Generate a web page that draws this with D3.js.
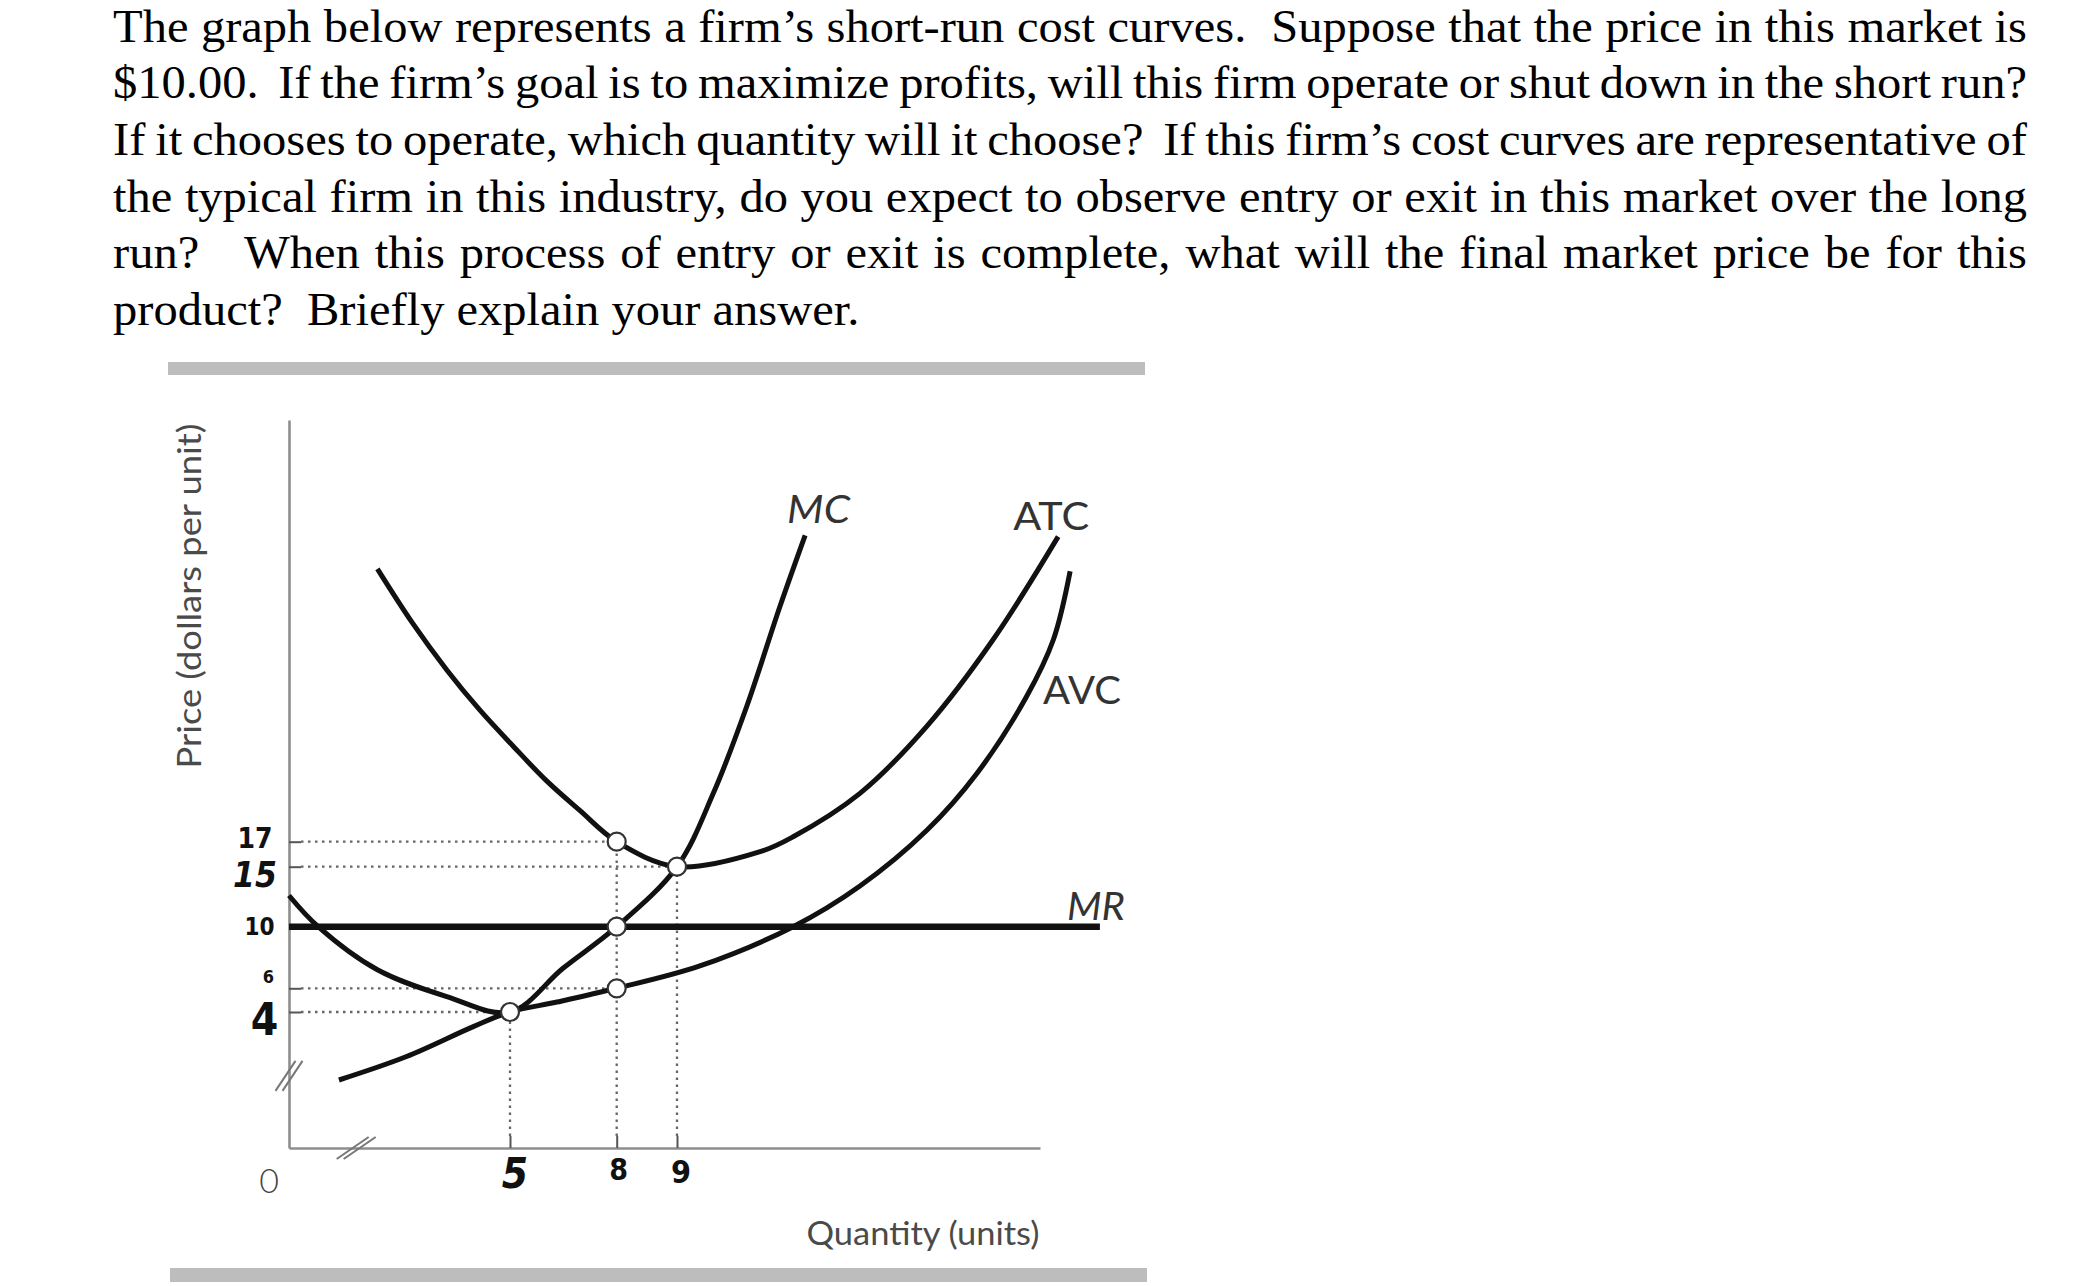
<!DOCTYPE html>
<html>
<head>
<meta charset="utf-8">
<script src="https://cdn.jsdelivr.net/npm/d3@7"></script>
<style>
  html, body { margin: 0; padding: 0; background: #ffffff; }
  svg { display: block; }
</style>
</head>
<body>
<svg id="chart" width="2078" height="1286"></svg>
<script>
// ---------------- DATA ----------------
const questionLines = [
  "The graph below represents a firm\u2019s short-run cost curves.  Suppose that the price in this market is",
  "$10.00.  If the firm\u2019s goal is to maximize profits, will this firm operate or shut down in the short run?",
  "If it chooses to operate, which quantity will it choose?  If this firm\u2019s cost curves are representative of",
  "the typical firm in this industry, do you expect to observe entry or exit in this market over the long",
  "run?   When this process of entry or exit is complete, what will the final market price be for this",
  "product?  Briefly explain your answer."
];
const justifiedLines = [true, true, true, true, true, false];

const quantityTicks = [5, 8, 9];
const quantityTickLabels = ["5", "8", "9"];
const priceTicks = [17, 15, 10, 6, 4];
const priceTickLabels = ["17", "15", "10", "6", "4"];

// curves: [quantity, price]
const mcCurve = [[0, 12.6], [0.66, 10], [2.0, 7.2], [3.57, 5.3], [5, 4], [6.49, 7.3], [8, 10], [9, 15],
                 [10.0, 20.9], [10.92, 27.9], [11.84, 36.0], [12.53, 41.7]];
const atcCurve = [[2.0, 39.0], [2.8, 34.6], [3.57, 30.85], [4.32, 27.6], [5.09, 24.7], [6.03, 21.9],
                  [6.97, 19.5], [8, 17], [9, 15], [11.29, 16.2], [12.2, 17.4],
                  [14.04, 20.9], [15.88, 26.3], [17.71, 33.3], [19.5, 41.6]];
const avcCurve = [[1.13, 2.0], [2.66, 2.69], [4.17, 3.57], [5, 4], [6.32, 4.84], [8, 6], [9.63, 7.45],
                  [12.2, 10], [14.04, 13.39], [15.89, 17.94], [17.26, 22.5], [18.63, 28.7],
                  [19.37, 33.3], [19.83, 38.8]];
const mrPrice = 10;
const mrQuantities = [0, 20.65];

const markedPoints = [[8, 17], [9, 15], [8, 10], [8, 6], [5, 4]];
const priceGuides = [[17, 8], [15, 9], [6, 8], [4, 5]];      // [price, quantity where guide ends]
const quantityGuides = [[5, 4], [8, 17], [9, 15]];           // [quantity, price where guide ends]
const priceBreakValue = 2.12;
const quantityBreakValue = 1.52;

const curveNames = ["MC", "ATC", "AVC", "MR"];

// ---------------- LAYOUT / STYLE ----------------
const svg = d3.select("#chart");

const x = d3.scaleLinear().domain([0, 5, 8, 9, 19]).range([289, 510, 616.7, 677, 1040]);
const y = d3.scaleLinear().domain([0, 4, 6, 10, 15, 17, 51]).range([1148, 1012, 988.3, 926.7, 866.7, 841.7, 420]);

const textLeft = 113, textRight = 2027, baseline0 = 41.5, lineGap = 56.7;
const textSize = 46, textScaleX = 1.055;
const serif = "'Liberation Serif','Times New Roman',Times,serif";
const sans = "Lato,'Open Sans','DejaVu Sans',sans-serif";
const hand = "'Liberation Sans Narrow','DejaVu Sans Condensed','Liberation Sans',sans-serif";

// ---------- question text (justified) ----------
const tg = svg.append("g");
function measure(w) {
  const t = tg.append("text").attr("font-family", serif).attr("font-size", textSize).style("white-space", "pre").text(w);
  const wd = t.node().getComputedTextLength();
  t.remove();
  return wd * textScaleX;
}
function putWord(w, px, py) {
  tg.append("text").attr("transform", `translate(${px},${py}) scale(${textScaleX},1)`)
    .attr("font-family", serif).attr("font-size", textSize).attr("fill", "#000")
    .style("white-space", "pre").text(w);
}
questionLines.forEach((line, i) => {
  const yy = baseline0 + i * lineGap;
  if (!justifiedLines[i]) { putWord(line, textLeft, yy); return; }
  const parts = line.split(/( +)/);
  const words = parts.filter((p, k) => k % 2 === 0);
  const gaps = parts.filter((p, k) => k % 2 === 1).map(s => s.length);
  const widths = words.map(measure);
  const perSpace = (textRight - textLeft - d3.sum(widths)) / d3.sum(gaps);
  let cx = textLeft;
  words.forEach((w, k) => {
    putWord(w, cx, yy);
    cx += widths[k] + (k < gaps.length ? gaps[k] * perSpace : 0);
  });
});

// ---------- gray frame bars ----------
svg.append("rect").attr("x", 168).attr("y", 362).attr("width", 977).attr("height", 13).attr("fill", "#bdbdbd");
svg.append("rect").attr("x", 170).attr("y", 1268).attr("width", 977).attr("height", 14).attr("fill", "#bdbdbd");

// ---------- axes ----------
const axisG = svg.append("g");
const yAxis = d3.axisLeft(y).tickValues(priceTicks.filter(p => p !== mrPrice)).tickSize(-12).tickSizeOuter(0).tickFormat("");
const xAxis = d3.axisBottom(x).tickValues(quantityTicks).tickSize(-12).tickSizeOuter(0).tickFormat("");
const gy = axisG.append("g").attr("transform", `translate(${x(0)},0)`).call(yAxis);
const gx = axisG.append("g").attr("transform", `translate(0,${y(0)})`).call(xAxis);
[gy, gx].forEach(g => {
  g.select(".domain").attr("stroke", "#8e8e8e").attr("stroke-width", 2.6);
  g.selectAll(".tick line").attr("stroke", "#555").attr("stroke-width", 2);
});

// axis break marks
const brk = axisG.append("g").attr("stroke", "#777").attr("stroke-width", 2).attr("fill", "none");
[-3.5, 3.5].forEach(o => {
  const cy = y(priceBreakValue);
  brk.append("line").attr("x1", x(0) - 10 + o).attr("y1", cy + 15).attr("x2", x(0) + 10 + o).attr("y2", cy - 15);
  const cxq = x(quantityBreakValue);
  brk.append("line").attr("x1", cxq - 16 + o).attr("y1", y(0) + 11).attr("x2", cxq + 16 + o).attr("y2", y(0) - 11);
});

// ---------- dotted guides ----------
const guideG = svg.append("g").attr("stroke", "#666").attr("stroke-width", 2.3).attr("stroke-dasharray", "2.5,4.5");
priceGuides.forEach(([p, q]) => {
  guideG.append("line").attr("x1", x(0) + 12).attr("x2", x(q)).attr("y1", y(p)).attr("y2", y(p));
});
quantityGuides.forEach(([q, p]) => {
  guideG.append("line").attr("x1", x(q)).attr("x2", x(q)).attr("y1", y(0) - 12).attr("y2", y(p));
});

// ---------- curves ----------
const lineGen = d3.line().x(d => x(d[0])).y(d => y(d[1])).curve(d3.curveCatmullRom.alpha(0.5));
const curveG = svg.append("g").attr("fill", "none").attr("stroke", "#111").attr("stroke-linecap", "butt");
[mcCurve, atcCurve, avcCurve].forEach(c => {
  curveG.append("path").attr("d", lineGen(c)).attr("stroke-width", 5);
});
curveG.append("line").attr("x1", x(mrQuantities[0])).attr("x2", x(mrQuantities[1]))
  .attr("y1", y(mrPrice)).attr("y2", y(mrPrice)).attr("stroke-width", 6.5);

// ---------- marked points ----------
svg.append("g").selectAll("circle").data(markedPoints).join("circle")
  .attr("cx", d => x(d[0])).attr("cy", d => y(d[1])).attr("r", 9)
  .attr("fill", "#fff").attr("stroke", "#333").attr("stroke-width", 2.2);

// ---------- curve labels ----------
const lastOf = c => [x(c[c.length - 1][0]), y(c[c.length - 1][1])];
const ends = { MC: lastOf(mcCurve), ATC: lastOf(atcCurve), AVC: lastOf(avcCurve), MR: [x(mrQuantities[1]), y(mrPrice)] };
const labelStyle = {
  MC: { dx: -18, dy: -12, italic: true, len: 63 },
  ATC: { dx: -45, dy: -7, italic: false, len: 76 },
  AVC: { dx: -27, dy: 133, italic: false, len: 78 },
  MR: { dx: -33, dy: -7, italic: true, len: 58 }
};
curveNames.forEach(n => {
  const s = labelStyle[n];
  svg.append("text").attr("x", ends[n][0] + s.dx).attr("y", ends[n][1] + s.dy)
    .attr("font-family", sans).attr("font-size", 39).attr("fill", "#333")
    .attr("font-style", s.italic ? "italic" : "normal")
    .attr("textLength", s.len).attr("lengthAdjust", "spacingAndGlyphs")
    .text(n);
});

// ---------- handwritten tick labels ----------
const priceLabelStyle = [
  { size: 28, dx: -34, dy: 6.5, italic: false },
  { size: 35, dx: -34, dy: 20, italic: true },
  { size: 24, dx: -29.5, dy: 8, italic: false },
  { size: 18, dx: -20.5, dy: -5, italic: false },
  { size: 44, dx: -24.5, dy: 23, italic: false }
];
priceTicks.forEach((p, i) => {
  const s = priceLabelStyle[i];
  svg.append("text").attr("x", x(0) + s.dx).attr("y", y(p) + s.dy)
    .attr("text-anchor", "middle").attr("font-family", hand).attr("font-weight", "bold")
    .attr("font-style", s.italic ? "italic" : "normal")
    .attr("font-size", s.size).attr("fill", "#111").text(priceTickLabels[i]);
});
const qtyLabelStyle = [
  { size: 42, dx: 5, dy: 40, italic: true },
  { size: 30, dx: 2, dy: 32, italic: false },
  { size: 32, dx: 4, dy: 35, italic: false }
];
quantityTicks.forEach((q, i) => {
  const s = qtyLabelStyle[i];
  svg.append("text").attr("x", x(q) + s.dx).attr("y", y(0) + s.dy)
    .attr("text-anchor", "middle").attr("font-family", hand).attr("font-weight", "bold")
    .attr("font-style", s.italic ? "italic" : "normal")
    .attr("font-size", s.size).attr("fill", "#111").text(quantityTickLabels[i]);
});
svg.append("text").attr("x", x(0) - 20).attr("y", y(0) + 45)
  .attr("text-anchor", "middle").attr("font-family", sans).attr("font-weight", 300)
  .attr("font-size", 34).attr("fill", "#444").text("0");

// ---------- axis titles ----------
svg.append("text")
  .attr("transform", `translate(${x(0) - 88},596) rotate(-90)`)
  .attr("text-anchor", "middle").attr("font-family", sans).attr("font-size", 32).attr("fill", "#4a4a4a")
  .attr("textLength", 345).attr("lengthAdjust", "spacingAndGlyphs")
  .text("Price (dollars per unit)");
svg.append("text").attr("x", 923).attr("y", y(0) + 97)
  .attr("text-anchor", "middle").attr("font-family", sans).attr("font-size", 33).attr("fill", "#4a4a4a")
  .attr("textLength", 233).attr("lengthAdjust", "spacingAndGlyphs")
  .text("Quantity (units)");
</script>
</body>
</html>
